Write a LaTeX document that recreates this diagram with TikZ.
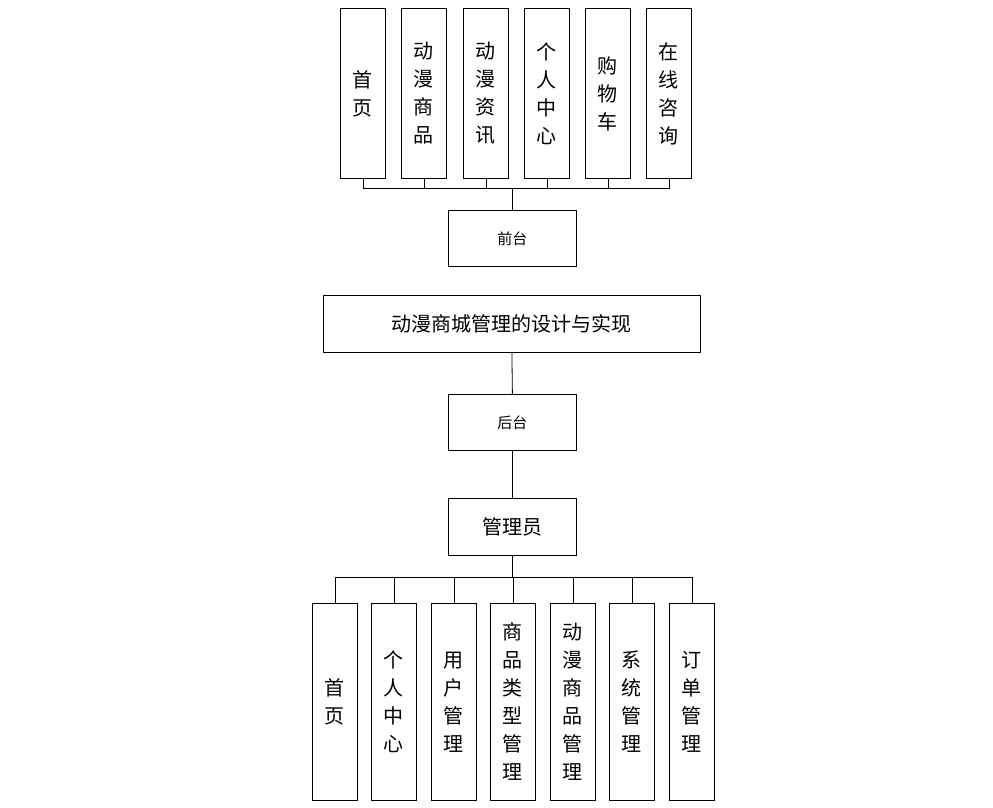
\documentclass[tikz,border=0pt]{standalone}
\usepackage{fontspec}
\newfontfamily\cjk{Noto Sans CJK SC}
\begin{document}
\begin{tikzpicture}[x=1pt,y=-1pt,
  bx/.style={draw,line width=0.8pt,anchor=north west,inner sep=0pt,font=\cjk\fontsize{20}{28}\selectfont,align=center},
  ln/.style={line width=0.8pt}]
\useasboundingbox (0,0) rectangle (993,808);
% top boxes
\foreach \i/\x/\t in {1/340/首\\页,2/401/动\\漫\\商\\品,3/463/动\\漫\\资\\讯,4/524/个\\人\\中\\心,5/585/购\\物\\车,6/646/在\\线\\咨\\询}{
  \node[bx,minimum width=45pt,minimum height=170pt] (t\i) at (\x,8) {\t};
  \draw[ln] (t\i.south) -- ++(0,10) coordinate (tc\i);
}
\draw[ln] (tc1) -- (tc6);
\node[bx,minimum width=128pt,minimum height=56pt,font=\cjk\fontsize{15}{18}\selectfont] (q) at (448,210) {前台};
\draw[ln] (q.north) -- (q.north |- tc1);
\node[bx,minimum width=377pt,minimum height=57pt] (m) at (323,295) {动漫商城管理的设计与实现};
\node[bx,minimum width=128pt,minimum height=56pt,font=\cjk\fontsize{15}{18}\selectfont] (h) at (448,394) {后台};
\draw[ln] (m.south) -- (h.north);
\node[bx,minimum width=128pt,minimum height=57pt] (g) at (448,498) {管理员};
\draw[ln] (h.south) -- (g.north);
\foreach \i/\x/\t in {1/312/首\\页,2/371/个\\人\\中\\心,3/431/用\\户\\管\\理,4/490/商\\品\\类\\型\\管\\理,5/550/动\\漫\\商\\品\\管\\理,6/609/系\\统\\管\\理,7/669/订\\单\\管\\理}{
  \node[bx,minimum width=45pt,minimum height=197pt] (b\i) at (\x,603) {\t};
  \draw[ln] (b\i.north) -- ++(0,-26) coordinate (bc\i);
}
\draw[ln] (bc1) -- (bc7);
\draw[ln] (g.south) -- (g.south |- bc1);
\end{tikzpicture}
\end{document}
